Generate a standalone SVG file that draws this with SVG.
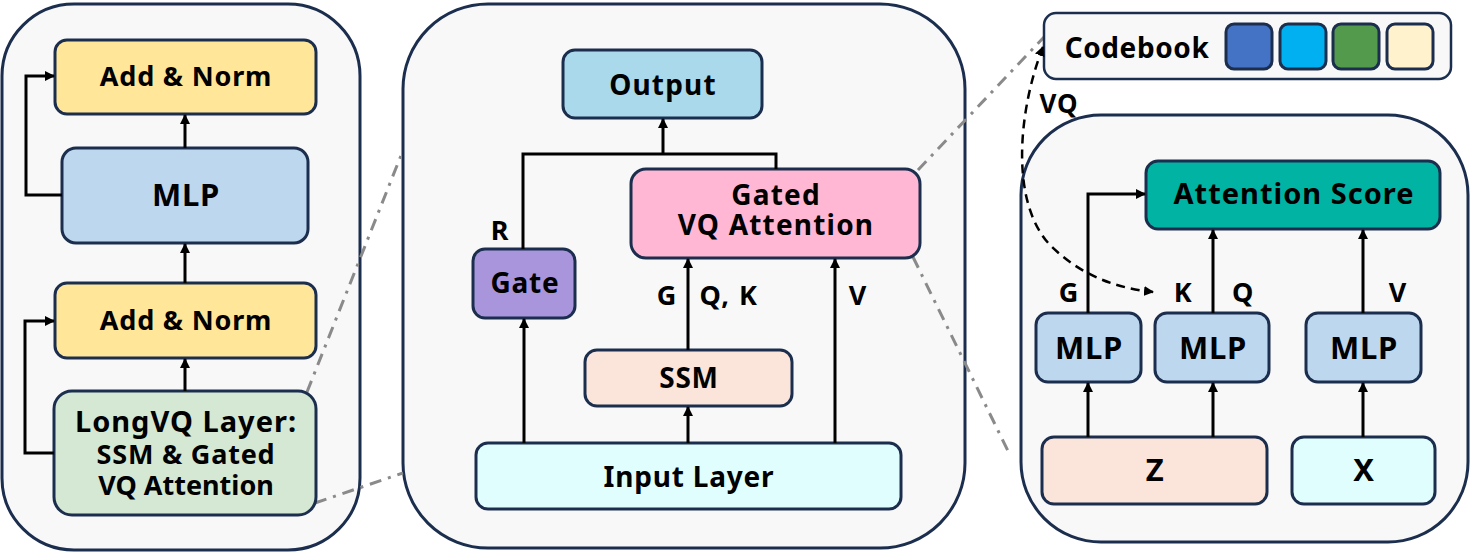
<svg xmlns="http://www.w3.org/2000/svg" width="1472" height="555" viewBox="0 0 1472 555">
<style>
.panel{fill:#F8F8F9;stroke:#1C2E4E;stroke-width:3}
.box{stroke:#1C2E4E;stroke-width:3}
.t{font-family:"Noto Sans","Liberation Sans",sans-serif;font-weight:700;fill:#000;text-anchor:middle;letter-spacing:0.8px}
.lb{font-size:27px}
.l{stroke:#000;stroke-width:3;fill:none}
.la{stroke:#000;stroke-width:3;fill:none;marker-end:url(#ah)}
.dd{stroke:#8A8A8A;stroke-width:3;fill:none;stroke-dasharray:12 7 3 7}
</style>
<defs>
<marker id="ah" markerWidth="10" markerHeight="10" refX="9" refY="5" orient="auto" markerUnits="userSpaceOnUse"><path d="M0,0 L10,5 L0,10 z" fill="#000"/></marker>
<marker id="ahs" markerWidth="10" markerHeight="10" refX="9" refY="5" orient="auto-start-reverse" markerUnits="userSpaceOnUse"><path d="M0,0 L10,5 L0,10 z" fill="#000"/></marker>
</defs>

<g id="panels">
<rect id="panel-left" class="panel" x="2" y="4" width="358" height="546" rx="72"/>
<rect id="panel-mid" class="panel" x="403" y="4" width="562" height="544" rx="85"/>
<rect id="panel-right" class="panel" x="1021" y="115" width="447" height="427" rx="80"/>
</g>

<g id="zoom-lines">
<line class="dd" x1="307" y1="392" x2="402" y2="153"/>
<line class="dd" x1="315" y1="503" x2="403" y2="473"/>
<line class="dd" x1="918" y1="170" x2="1062" y2="18"/>
<line class="dd" x1="913" y1="257" x2="1010" y2="455"/>
</g>

<g id="addnorm1"><rect class="box" x="55" y="40" width="261" height="74" rx="12" fill="#FFE699"/><text class="t" x="186" y="86" font-size="27">Add &amp; Norm</text></g>
<g id="mlp-left"><rect class="box" x="62" y="148" width="246" height="95" rx="14" fill="#BDD7EE"/><text class="t" x="186" y="206" font-size="31">MLP</text></g>
<g id="addnorm2"><rect class="box" x="55" y="283" width="261" height="75" rx="12" fill="#FFE699"/><text class="t" x="186" y="330" font-size="27">Add &amp; Norm</text></g>
<g id="longvq"><rect class="box" x="54" y="391" width="262" height="124" rx="18" fill="#D5E8D4"/>
<text class="t" x="186" y="432" font-size="29" style="letter-spacing:1px">LongVQ Layer:</text>
<text class="t" x="186" y="464" font-size="27">SSM &amp; Gated</text>
<text class="t" x="186" y="495" font-size="27" style="letter-spacing:0">VQ Attention</text></g>

<g id="output"><rect class="box" x="563" y="50" width="199" height="68" rx="12" fill="#A9D9EA"/><text class="t" x="663" y="95" font-size="28" style="letter-spacing:1.2px">Output</text></g>
<g id="gatedvq"><rect class="box" x="631" y="169" width="289" height="89" rx="15" fill="#FFB7D3"/>
<text class="t" x="776" y="205" font-size="28" style="letter-spacing:1.2px">Gated</text>
<text class="t" x="776" y="235" font-size="28" style="letter-spacing:1.2px">VQ Attention</text></g>
<g id="gate"><rect class="box" x="473" y="249" width="102" height="69" rx="12" fill="#A895DC"/><text class="t" x="525" y="293" font-size="28">Gate</text></g>
<g id="ssm"><rect class="box" x="585" y="350" width="207" height="56" rx="12" fill="#FBE4DA"/><text class="t" x="689" y="388" font-size="28">SSM</text></g>
<g id="input"><rect class="box" x="476" y="443" width="425" height="66" rx="12" fill="#E1FEFF"/><text class="t" x="689" y="487" font-size="28">Input Layer</text></g>

<g id="codebook"><rect x="1044" y="13" width="407" height="66" rx="12" fill="#F8F8F9" stroke="#1C2E4E" stroke-width="2.5"/>
<text class="t" x="1137" y="58" font-size="28" style="letter-spacing:0.6px">Codebook</text>
<rect class="box" x="1226" y="24" width="46" height="45" rx="8" fill="#4472C4"/>
<rect class="box" x="1280" y="24" width="46" height="45" rx="8" fill="#00B0F0"/>
<rect class="box" x="1333" y="24" width="46" height="45" rx="8" fill="#549A4C"/>
<rect class="box" x="1387" y="24" width="46" height="45" rx="8" fill="#FFF2CC"/></g>
<g id="attscore"><rect class="box" x="1146" y="161" width="294" height="68" rx="12" fill="#00B3A2"/><text class="t" x="1294" y="204" font-size="29" style="letter-spacing:1px">Attention Score</text></g>
<g id="mlp-g"><rect class="box" x="1036" y="313" width="105" height="69" rx="12" fill="#BDD7EE"/><text class="t" x="1089" y="359" font-size="31">MLP</text></g>
<g id="mlp-q"><rect class="box" x="1155" y="313" width="114" height="69" rx="12" fill="#BDD7EE"/><text class="t" x="1213" y="359" font-size="31">MLP</text></g>
<g id="mlp-v"><rect class="box" x="1306" y="313" width="115" height="69" rx="12" fill="#BDD7EE"/><text class="t" x="1364" y="359" font-size="31">MLP</text></g>
<g id="z"><rect class="box" x="1042" y="437" width="225" height="67" rx="12" fill="#FBE4DA"/><text class="t" x="1155" y="481" font-size="31">Z</text></g>
<g id="x"><rect class="box" x="1292" y="437" width="143" height="67" rx="12" fill="#E1FEFF"/><text class="t" x="1364" y="481" font-size="31">X</text></g>

<g id="labels">
<text class="t lb" x="500" y="240">R</text>
<text class="t lb" x="667" y="305">G</text>
<text class="t lb" x="729" y="305" style="letter-spacing:1.5px">Q, K</text>
<text class="t lb" x="858" y="305">V</text>
<text class="t" x="1059" y="113" font-size="26">VQ</text>
<text class="t lb" x="1069" y="302">G</text>
<text class="t lb" x="1183" y="302">K</text>
<text class="t lb" x="1243" y="302">Q</text>
<text class="t lb" x="1398" y="302">V</text>
</g>

<g id="connectors">
<line class="la" x1="185" y1="148" x2="185" y2="115"/>
<polyline class="la" points="62,195 26,195 26,76 54,76"/>
<line class="la" x1="185" y1="283" x2="185" y2="244"/>
<line class="la" x1="185" y1="391" x2="185" y2="359"/>
<polyline class="la" points="54,453 25,453 25,321 54,321"/>

<line class="la" x1="663" y1="154" x2="663" y2="119"/>
<polyline class="l" points="523,249 523,154 776,154 776,169"/>
<line class="la" x1="524" y1="443" x2="524" y2="319"/>
<line class="la" x1="688" y1="443" x2="688" y2="407"/>
<line class="la" x1="688" y1="350" x2="688" y2="259"/>
<line class="la" x1="835" y1="443" x2="835" y2="259"/>

<polyline class="la" points="1088,313 1088,194 1145,194"/>
<line class="la" x1="1213" y1="313" x2="1213" y2="230"/>
<line class="la" x1="1363" y1="313" x2="1363" y2="230"/>
<line class="la" x1="1088" y1="437" x2="1088" y2="383"/>
<line class="la" x1="1213" y1="437" x2="1213" y2="383"/>
<line class="la" x1="1363" y1="437" x2="1363" y2="383"/>
<path d="M1043,47 C1020,105 1008,200 1050,245 C1080,275 1115,288 1153,292" stroke="#000" stroke-width="2.5" fill="none" stroke-dasharray="9 6" marker-start="url(#ahs)" marker-end="url(#ahs)"/>
</g>
</svg>
